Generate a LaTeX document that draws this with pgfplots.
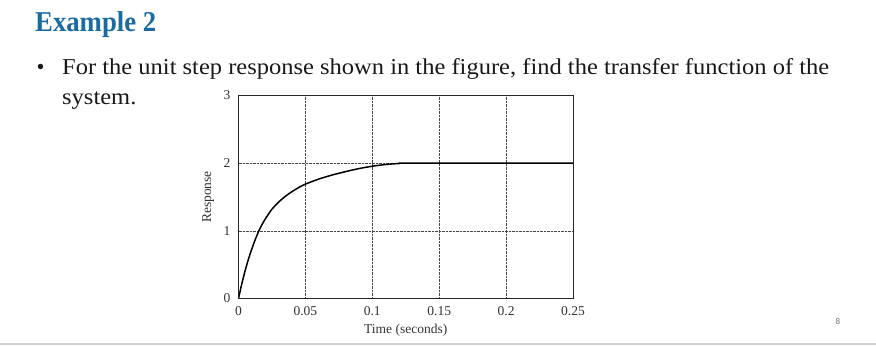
\documentclass[border=0pt]{standalone}
\usepackage{fontspec}
\setmainfont{Liberation Serif}
\newfontfamily\slidesans{Carlito}
\usepackage{graphicx}
\usepackage{pgfplots}
\pgfplotsset{compat=1.18}

\definecolor{titleblue}{RGB}{26,107,160}
\definecolor{bodytext}{RGB}{25,25,25}
\definecolor{gridgray}{RGB}{70,70,70}

% step response samples
\pgfplotstableread{
t       y
0       0
0.0025  0.22
0.005   0.415
0.0075  0.585
0.01    0.735
0.0125  0.87
0.015   0.99
0.0175  1.09
0.02    1.175
0.0225  1.25
0.025   1.32
0.03    1.425
0.035   1.51
0.04    1.58
0.045   1.64
0.05    1.69
0.06    1.765
0.07    1.825
0.08    1.875
0.09    1.92
0.1     1.955
0.11    1.98
0.12    1.995
0.13    2.00
0.25    2.00
}\stepdata

\begin{document}
\begin{tikzpicture}[x=1pt,y=1pt]
  \useasboundingbox (0,0) rectangle (876,346);
  \fill[white] (0,0) rectangle (876,346);

  % slide title
  \node[anchor=base west, inner sep=0pt, text=titleblue] at (35,314)
    {\resizebox{121pt}{\height}{\fontsize{28.7}{30}\selectfont\bfseries Example 2}};

  % bullet point
  \node[anchor=base, inner sep=0pt, text=bodytext] at (40.5,271)
    {\fontsize{22.7}{29}\selectfont\textbullet};
  \node[anchor=base west, inner sep=0pt, text=bodytext] at (62,271)
    {\resizebox{767pt}{\height}{\fontsize{22.7}{29}\selectfont
      \begin{tabular}[t]{@{}l@{}}
        For the unit step response shown in the figure, find the transfer function of the\\
        system.
      \end{tabular}}};

  % footer
  \draw[color=black!18, line width=1.6pt] (0,2) -- (876,2);
  \node[anchor=center, inner sep=0pt, text=black!55] at (838,25)
    {\slidesans\fontsize{9}{10}\selectfont 8};

  \begin{axis}[
    at={(238.5pt,47.5pt)}, anchor=south west,
    scale only axis, width=334.5pt, height=203pt,
    xmin=0, xmax=0.25, ymin=0, ymax=3,
    xtick={0,0.05,0.1,0.15,0.2,0.25},
    xticklabels={0,0.05,0.1,0.15,0.2,0.25},
    ytick={0,1,2,3},
    yticklabels={0,1,2,3},
    major tick length=0pt,
    grid=major,
    major grid style={densely dotted, color=gridgray, line width=0.6pt},
    axis line style={line width=0.8pt, color=black!85},
    tick label style={font=\fontsize{13.5}{14}\selectfont, text=black!80},
    xticklabel style={anchor=center, inner sep=0pt, yshift=-12.5pt},
    yticklabel style={anchor=east, inner sep=0pt, xshift=-8pt},
    xlabel={Time (seconds)},
    ylabel={Response},
    label style={font=\fontsize{13.5}{14}\selectfont, text=black!80},
    xlabel style={at={(axis description cs:0.5,-0.155)}, anchor=center},
    ylabel style={at={(axis description cs:-0.091,0.5)}, anchor=center},
  ]
    \addplot[black, line width=1.5pt, smooth] table[x=t, y=y] {\stepdata};
  \end{axis}
\end{tikzpicture}
\end{document}
